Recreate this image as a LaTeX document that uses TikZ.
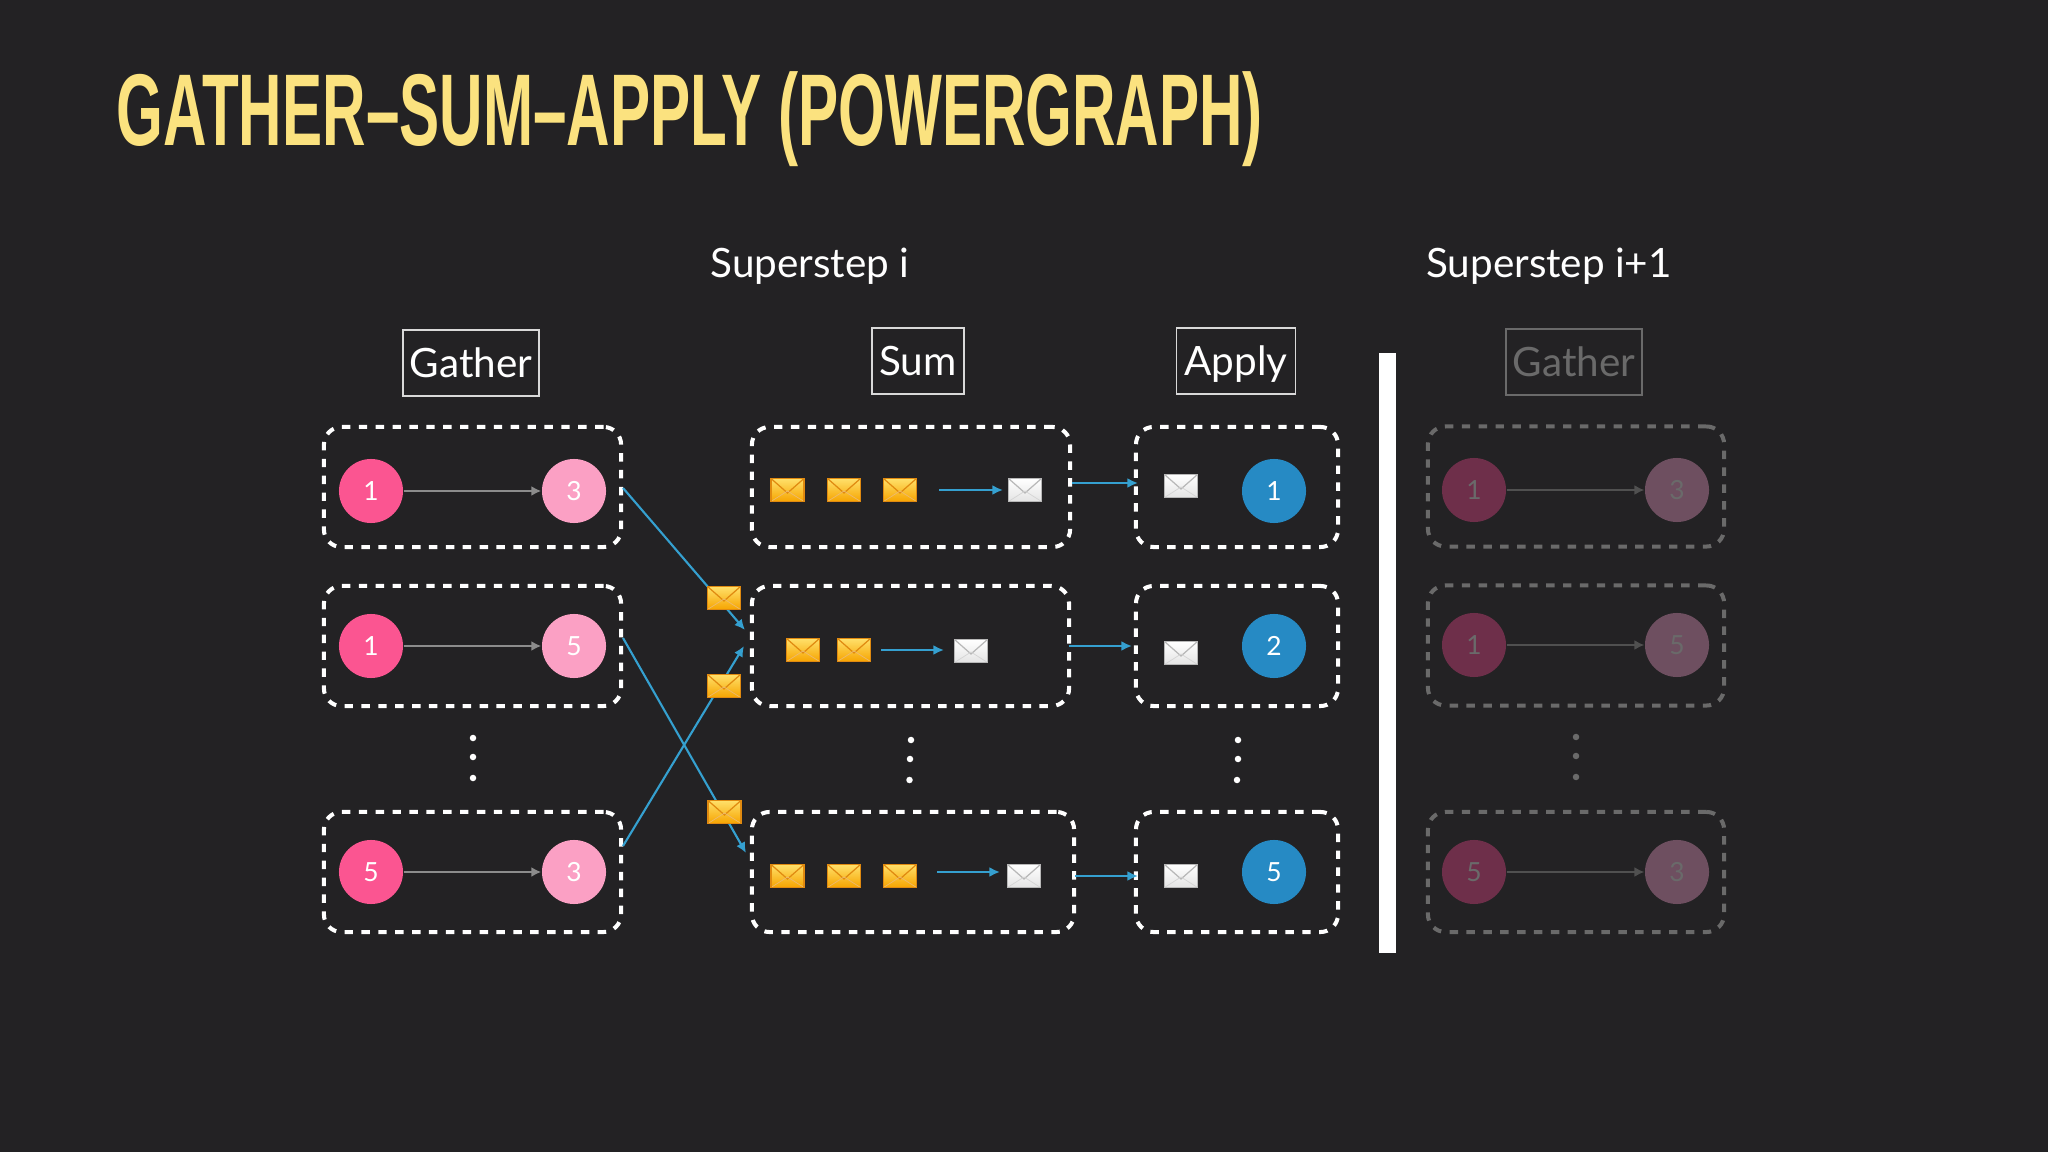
\documentclass[tikz,border=0pt]{standalone}
\usepackage{fontspec}
\setmainfont{Lato}
\newfontfamily\ttlfont{Liberation Sans}
\usetikzlibrary{arrows.meta}
\definecolor{bgc}{HTML}{232224}
\definecolor{ttlc}{HTML}{FBE27F}
\definecolor{pnk}{HTML}{FB5591}
\definecolor{lpnk}{HTML}{FBA0C4}
\definecolor{blu}{HTML}{268AC4}
\definecolor{lne}{HTML}{35A0D0}
\definecolor{fdln}{HTML}{6A6A6A}
\definecolor{fdpnk}{HTML}{6E2F4A}
\definecolor{fdlpnk}{HTML}{6E4F60}
\definecolor{envtop}{HTML}{FFE06A}
\definecolor{envbot}{HTML}{F6A400}
\definecolor{envedg}{HTML}{E08A10}
\definecolor{wtop}{HTML}{FFFFFF}
\definecolor{wbot}{HTML}{E4E4E4}
\definecolor{wedg}{HTML}{B8B8B8}

\begin{document}
\begin{tikzpicture}[x=0.01cm,y=-0.01cm,
dbx/.style ={draw=white,line width=1.15pt,dash pattern=on 2.4pt off 2.4pt,rounded corners=5pt,inner sep=0,outer sep=0,minimum height=1.2cm},
fdbx/.style ={dbx,draw=fdln},
lbl/.style ={draw=white!85!black,line width=.32pt,text=white,font=\fontsize{11.5}{12}\selectfont,inner sep=0,minimum height=.66cm,text height=8.3pt,text depth=0pt},
fdlbl/.style ={lbl,draw=fdln,text=fdln},
sstp/.style ={text=white,font=\fontsize{11.5}{12}\selectfont},
nd/.style ={circle,inner sep=0,minimum size=.64cm,text=white,font=\fontsize{7.5}{9}\selectfont},
pk/.style ={nd,fill=pnk},
lpk/.style ={nd,fill=lpnk},
bl/.style ={nd,fill=blu},
fpk/.style ={nd,fill=fdpnk,text=fdln},
flpk/.style ={nd,fill=fdlpnk,text=fdln},
gar/.style ={-{Latex[length=2.8pt,width=2.8pt]},color=gray!90,line width=.62pt},
fgar/.style ={-{Latex[length=2.8pt,width=2.8pt]},color=fdln!75!black,line width=.45pt},
bar/.style ={-{Latex[length=3pt,width=2.8pt]},color=lne,line width=.6pt},
dt/.style ={circle,fill=white,inner sep=0,minimum size=.065cm},
fdt/.style ={dt,fill=fdln},
env/.style ={inner sep=0,outer sep=0,minimum width=.33cm,minimum height=.23cm,draw=envedg,line width=.3pt,top color=envtop,bottom color=envbot,path picture={
\draw[envedg,line width=.35pt] (path picture bounding box.north west) -- ([yshift=-.03cm]path picture bounding box.center) -- (path picture bounding box.north east);
\draw[envedg!60,line width=.2pt] (path picture bounding box.south west) -- ([yshift=-.01cm]path picture bounding box.center) -- (path picture bounding box.south east);}},
wenv/.style ={inner sep=0,outer sep=0,minimum width=.33cm,minimum height=.23cm,draw=wedg,line width=.3pt,top color=wtop,bottom color=wbot,path picture={
\draw[wedg,line width=.35pt] (path picture bounding box.north west) -- ([yshift=-.03cm]path picture bounding box.center) -- (path picture bounding box.north east);
\draw[wedg!60,line width=.2pt] (path picture bounding box.south west) -- ([yshift=-.01cm]path picture bounding box.center) -- (path picture bounding box.south east);}}]

\useasboundingbox (0,0) rectangle (2048,1152);
\fill[bgc] (0,0) rectangle (2048,1152);

%title
\node[anchor=base west,inner sep=0,xscale=.59,text=ttlc,font=\ttlfont\bfseries\fontsize{29}{30}\selectfont] at (116,146) (ttl){GATHER–SUM–APPLY (POWERGRAPH)};

%superstep labels
\node[sstp] at (810,266) (ss1){Superstep i};
\node[sstp] at (1549,266) (ss2){Superstep i+1};

%column labels
\node[lbl,minimum width=1.36cm] at (471,363) (lg){Gather};
\node[lbl,minimum width=.92cm] at (918,361) (ls){Sum};
\node[lbl,minimum width=1.19cm] at (1236,361) (la){Apply};
\node[fdlbl,minimum width=1.36cm] at (1574,362) (lf){Gather};

%gather column
\node[dbx,minimum width=2.97cm] at (472.5,487) (g1){};
\node[dbx,minimum width=2.97cm] at (472.5,646) (g2){};
\node[dbx,minimum width=2.97cm] at (472.5,872) (g3){};
\node[pk] at (371,491) (a1){1};
\node[lpk] at (574,491) (b1){3};
\node[pk] at (371,646) (a2){1};
\node[lpk] at (574,646) (b2){5};
\node[pk] at (371,872) (a3){5};
\node[lpk] at (574,872) (b3){3};
\draw[gar] (a1) to (b1);
\draw[gar] (a2) to (b2);
\draw[gar] (a3) to (b3);
\node[dt] at (473,738) (d1){};
\node[dt] at (473,757) (d2){};
\node[dt] at (473,778) (d3){};

%sum column
\node[dbx,minimum width=3.18cm] at (911,487) (s1){};
\node[dbx,minimum width=3.17cm] at (910.5,646) (s2){};
\node[dbx,minimum width=3.22cm] at (913,872) (s3){};
\node[dt] at (911,740) (d4){};
\node[dt] at (910,759) (d5){};
\node[dt] at (909.5,780) (d6){};

%apply column
\node[dbx,minimum width=2.02cm] at (1237,487) (p1){};
\node[dbx,minimum width=2.02cm] at (1237,646) (p2){};
\node[dbx,minimum width=2.02cm] at (1237,872) (p3){};
\node[bl] at (1274,491) (c1){1};
\node[bl] at (1274,646) (c2){2};
\node[bl] at (1274,872) (c3){5};
\node[dt] at (1238,740) (d7){};
\node[dt] at (1238,759) (d8){};
\node[dt] at (1237,780) (d9){};

%messages between gather and sum
\coordinate (m1s) at (623,488);
\coordinate (m1e) at (745,630);
\coordinate (m2s) at (623,638);
\coordinate (m2e) at (746,853);
\coordinate (m3s) at (623,846);
\coordinate (m3e) at (744,646);
\draw[bar] (m1s) to (m1e);
\draw[bar] (m2s) to (m2e);
\draw[bar] (m3s) to (m3e);
\node[env] at (724,598) (e1){};
\node[env] at (724,686) (e2){};
\node[env] at (724.5,812) (e3){};

%sum row 1
\node[env] at (787.5,490) (f1){};
\node[env] at (844,490) (f2){};
\node[env] at (900,490) (f3){};
\node[wenv] at (1025,490) (w1){};
\coordinate (q1s) at (939,490);
\coordinate (q1e) at (1003,490);
\draw[bar] (q1s) to (q1e);

%sum row 2
\node[env] at (803,650) (f4){};
\node[env] at (854,650) (f5){};
\node[wenv] at (971,651) (w2){};
\coordinate (q2s) at (881,650);
\coordinate (q2e) at (944,650);
\draw[bar] (q2s) to (q2e);

%sum row 3
\node[env] at (787.5,876) (f6){};
\node[env] at (844,876) (f7){};
\node[env] at (900,876) (f8){};
\node[wenv] at (1024,876) (w3){};
\coordinate (q3s) at (937,872);
\coordinate (q3e) at (1000,872);
\draw[bar] (q3s) to (q3e);

%sum to apply
\node[wenv] at (1181,486) (w4){};
\node[wenv] at (1181,653) (w5){};
\node[wenv] at (1181,876) (w6){};
\coordinate (r1s) at (1072,483);
\coordinate (r1e) at (1138,483);
\coordinate (r2s) at (1069,646);
\coordinate (r2e) at (1132,646);
\coordinate (r3s) at (1075,876);
\coordinate (r3e) at (1138,876);
\draw[bar] (r1s) to (r1e);
\draw[bar] (r2s) to (r2e);
\draw[bar] (r3s) to (r3e);

%divider
\fill[white] (1379,353) rectangle (1396,953);

%next superstep faded
\node[fdbx,minimum width=2.96cm] at (1576,486.5) (h1){};
\node[fdbx,minimum width=2.96cm] at (1576,645.5) (h2){};
\node[fdbx,minimum width=2.96cm] at (1576,872) (h3){};
\node[fpk] at (1474,490) (k1){1};
\node[flpk] at (1677,490) (l1){3};
\node[fpk] at (1474,645) (k2){1};
\node[flpk] at (1677,645) (l2){5};
\node[fpk] at (1474,872) (k3){5};
\node[flpk] at (1677,872) (l3){3};
\draw[fgar] (k1) to (l1);
\draw[fgar] (k2) to (l2);
\draw[fgar] (k3) to (l3);
\node[fdt] at (1576,737) (d10){};
\node[fdt] at (1576,756) (d11){};
\node[fdt] at (1576,777) (d12){};
\end{tikzpicture}
\end{document}
